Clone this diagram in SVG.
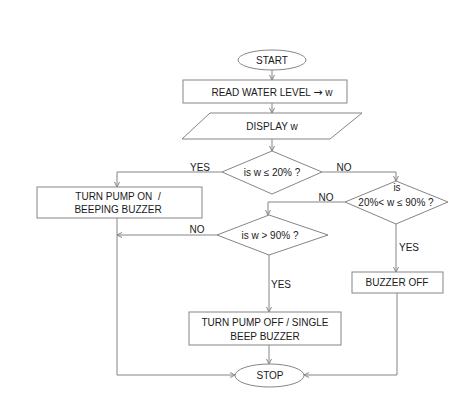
<svg xmlns="http://www.w3.org/2000/svg" width="474" height="414" viewBox="0 0 474 414">
<defs>
<style>
.s{fill:#fff;stroke:#858585;stroke-width:1}
.c{fill:none;stroke:#858585;stroke-width:1}
text{font-family:"Liberation Sans",Arial,sans-serif;font-size:10px;fill:#1a1a1a;text-anchor:middle}
.ar{font-family:"DejaVu Sans",sans-serif;font-size:11px}
</style>
<marker id="a" markerWidth="8" markerHeight="8" refX="6" refY="4" orient="auto" markerUnits="userSpaceOnUse">
<path d="M1,1.5 L6,4 L1,6.5" fill="none" stroke="#858585" stroke-width="1"/>
</marker>
</defs>
<rect width="474" height="414" fill="#fff"/>
<g id="connectors">
<path class="c" d="M272,70 V80" marker-end="url(#a)"/>
<path class="c" d="M272,103 V113" marker-end="url(#a)"/>
<path class="c" d="M272,139 V151" marker-end="url(#a)"/>
<path class="c" d="M222,172 H117 V187" marker-end="url(#a)"/>
<path class="c" d="M322,172 H396 V181" marker-end="url(#a)"/>
<path class="c" d="M345,202 H268 V215" marker-end="url(#a)"/>
<path class="c" d="M396,224 V272" marker-end="url(#a)"/>
<path class="c" d="M217,235 H117" marker-end="url(#a)"/>
<path class="c" d="M269,255 V312" marker-end="url(#a)"/>
<path class="c" d="M269,345 V364" marker-end="url(#a)"/>
<path class="c" d="M117,218 V375 H235" marker-end="url(#a)"/>
<path class="c" d="M397,293 V375 H304" marker-end="url(#a)"/>
<text x="200" y="171">YES</text>
<text x="344" y="171">NO</text>
<text x="326" y="201">NO</text>
<text x="409" y="251">YES</text>
<text x="197" y="233">NO</text>
<text x="281" y="288">YES</text>
</g>
<g id="start">
<ellipse class="s" cx="272" cy="60" rx="34" ry="10"/>
<text x="272" y="64">START</text>
</g>
<g id="read">
<rect class="s" x="183" y="80" width="164" height="23"/>
<text x="272" y="95.5">READ WATER LEVEL <tspan class="ar">→</tspan> w</text>
</g>
<g id="display">
<polygon class="s" points="210,113 362,113 330,139 182,139"/>
<text x="272" y="130">DISPLAY w</text>
</g>
<g id="d1">
<polygon class="s" points="272,151 322,172 272,194 222,172"/>
<text x="272" y="175.5">is w ≤ 20% ?</text>
</g>
<g id="pumpon">
<rect class="s" x="37" y="187" width="165" height="31"/>
<text x="118" y="200">TURN PUMP ON &#160;/</text>
<text x="118" y="213">BEEPING BUZZER</text>
</g>
<g id="d2">
<polygon class="s" points="396,181 448,202 396,224 345,202"/>
<text x="397" y="191">is</text>
<text x="396" y="205.5">20%&lt; w ≤ 90% ?</text>
</g>
<g id="d3">
<polygon class="s" points="269,215 328,235 269,255 217,235"/>
<text x="270" y="238.5">is w &gt; 90% ?</text>
</g>
<g id="buzzeroff">
<rect class="s" x="352" y="272" width="91" height="21"/>
<text x="397" y="286">BUZZER OFF</text>
</g>
<g id="pumpoff">
<rect class="s" x="189" y="312" width="152" height="33"/>
<text x="265" y="325.5">TURN PUMP OFF / SINGLE</text>
<text x="265" y="339.5">BEEP BUZZER</text>
</g>
<g id="stop">
<ellipse class="s" cx="269.5" cy="375.5" rx="34.5" ry="11.5"/>
<text x="270" y="379">STOP</text>
</g>
</svg>
